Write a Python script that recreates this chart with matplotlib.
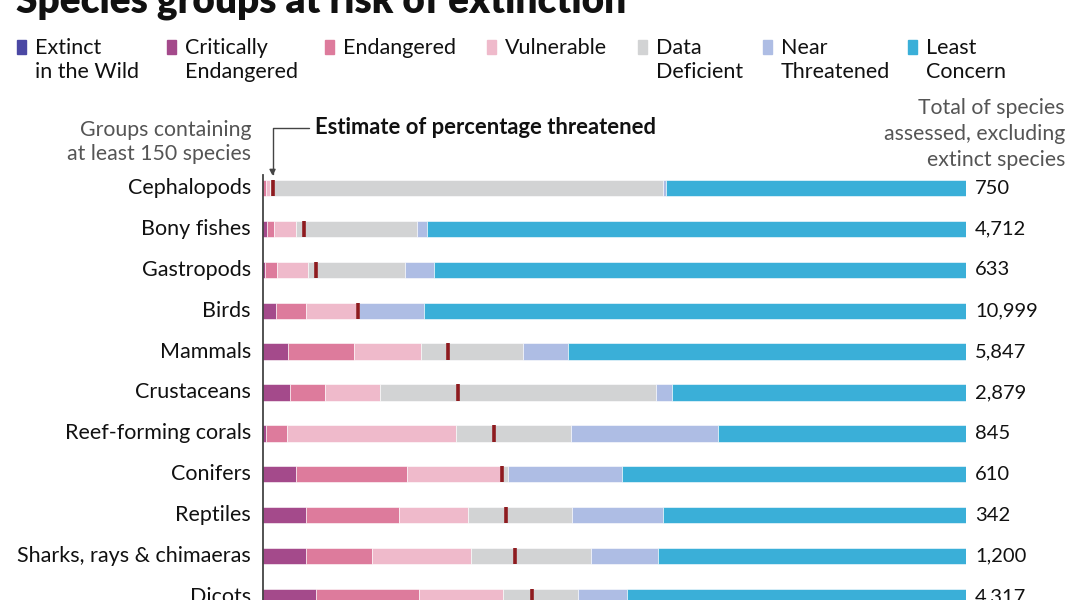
import matplotlib
matplotlib.use("Agg")
import matplotlib.pyplot as plt
import numpy as np

plt.rcParams['font.family'] = ['Lato', 'DejaVu Sans']

groups = ["Cephalopods", "Bony fishes", "Gastropods", "Birds", "Mammals",
          "Crustaceans", "Reef-forming corals", "Conifers", "Reptiles",
          "Sharks, rays & chimaeras", "Dicots"]
categories = ["Extinct\nin the Wild", "Critically\nEndangered", "Endangered",
              "Vulnerable", "Data\nDeficient", "Near\nThreatened", "Least\nConcern"]
colors = ["#4b48a4", "#a44a8b", "#dd7b9c", "#efbacb", "#d2d3d4", "#aebde4", "#3aafd8"]

extinct_wild = [0.0, 0.0, 0.0, 0.0, 0.0, 0.0, 0.0, 0.0, 0.0, 0.0, 0.0]
critically   = [0.0, 0.7, 0.4, 2.0, 3.7, 4.0, 0.6, 4.8, 6.2, 6.2, 7.7]
endangered   = [0.6, 1.0, 1.7, 4.2, 9.4, 5.0, 3.0, 15.8, 13.2, 9.4, 14.6]
vulnerable   = [0.6, 3.1, 4.4, 7.2, 9.5, 7.7, 24.0, 13.4, 9.8, 14.1, 11.9]
data_def     = [55.8, 17.2, 13.8, 0.4, 14.5, 39.3, 16.3, 1.0, 14.9, 17.0, 10.7]
near_threat  = [0.4, 1.4, 4.1, 9.2, 6.3, 2.3, 20.9, 16.2, 12.9, 9.5, 7.0]
least_conc   = [42.6, 76.6, 75.6, 77.0, 56.6, 41.7, 35.2, 48.8, 43.0, 43.8, 48.1]
pct_threatened = [1.5, 6.0, 7.7, 13.6, 26.4, 27.8, 33.0, 34.1, 34.7, 35.9, 38.4]
totals = ["750", "4,712", "633", "10,999", "5,847", "2,879", "845", "610", "342", "1,200", "4,317"]

series = [extinct_wild, critically, endangered, vulnerable, data_def, near_threat, least_conc]

W, H = 1065, 600
fig = plt.figure(figsize=(W / 100, H / 100), dpi=100)

def fx(px):
    return px / W

def fy(py):
    return 1 - py / H

# axes: x from 262 to 966 px, y from 175 to 600 px
row0 = 188.0
step = 40.9
ax = fig.add_axes([fx(262), 0, fx(966) - fx(262), (600 - 175) / H])
ax.set_xlim(0, 100)
ax.set_ylim((600 - row0) / step, (175 - row0) / step)
ax.axis('off')

y = np.arange(len(groups))
left = np.zeros(len(groups))
bh = 0.40
for vals, c in zip(series, colors):
    v = np.array(vals)
    ax.barh(y, v, left=left, height=bh, color=c, edgecolor='white', linewidth=0.4)
    left += v

ax.vlines(pct_threatened, y - bh / 2, y + bh / 2, color="#8e1b1f", lw=2.6, zorder=5)

# axis line
fig.add_artist(plt.Line2D([fx(262.5), fx(262.5)], [fy(175), 0], color="#444444", lw=1.3))

# row labels and totals
for i, (g, t) in enumerate(zip(groups, totals)):
    py = row0 + step * i
    fig.text(fx(251), fy(py), g, ha='right', va='center', fontsize=15.5, color="#111111")
    fig.text(fx(975), fy(py), t, ha='left', va='center', fontsize=14.5, color="#111111")

# title (cropped at top)
fig.text(fx(16), fy(13), "Species groups at risk of extinction", ha='left', va='baseline',
         fontsize=27.9, fontweight='heavy', color="#111111")

# legend
leg_x = [17, 167, 325, 487, 638, 763, 908]
for lx, lab, c in zip(leg_x, categories, colors):
    fig.patches.append(plt.Rectangle((fx(lx), fy(54)), fx(9), 14 / H, transform=fig.transFigure,
                                     color=c, figure=fig))
    fig.text(fx(lx + 18), fy(38), lab, ha='left', va='top', fontsize=15.5, color="#111111",
             linespacing=1.25)

# notes
fig.text(fx(251), fy(142), "Groups containing\nat least 150 species", ha='right', va='center',
         fontsize=15.3, color="#555555", linespacing=1.3)
fig.text(fx(1065), fy(134), "Total of species\nassessed, excluding\nextinct species", ha='right',
         va='center', fontsize=15.3, color="#555555", linespacing=1.35)
fig.text(fx(315), fy(128), "Estimate of percentage threatened", ha='left', va='center',
         fontsize=15.8, fontweight='bold', color="#111111")

ax.annotate("", xy=(pct_threatened[0], -0.3), xycoords='data',
            xytext=(fx(309), fy(128)), textcoords='figure fraction',
            arrowprops=dict(arrowstyle='-|>,head_length=0.35,head_width=0.18', color="#444444",
                            lw=1.0, shrinkA=0, shrinkB=0,
                            connectionstyle="angle,angleA=180,angleB=90,rad=0"),
            annotation_clip=False)

fig.savefig("out.png", dpi=100)
